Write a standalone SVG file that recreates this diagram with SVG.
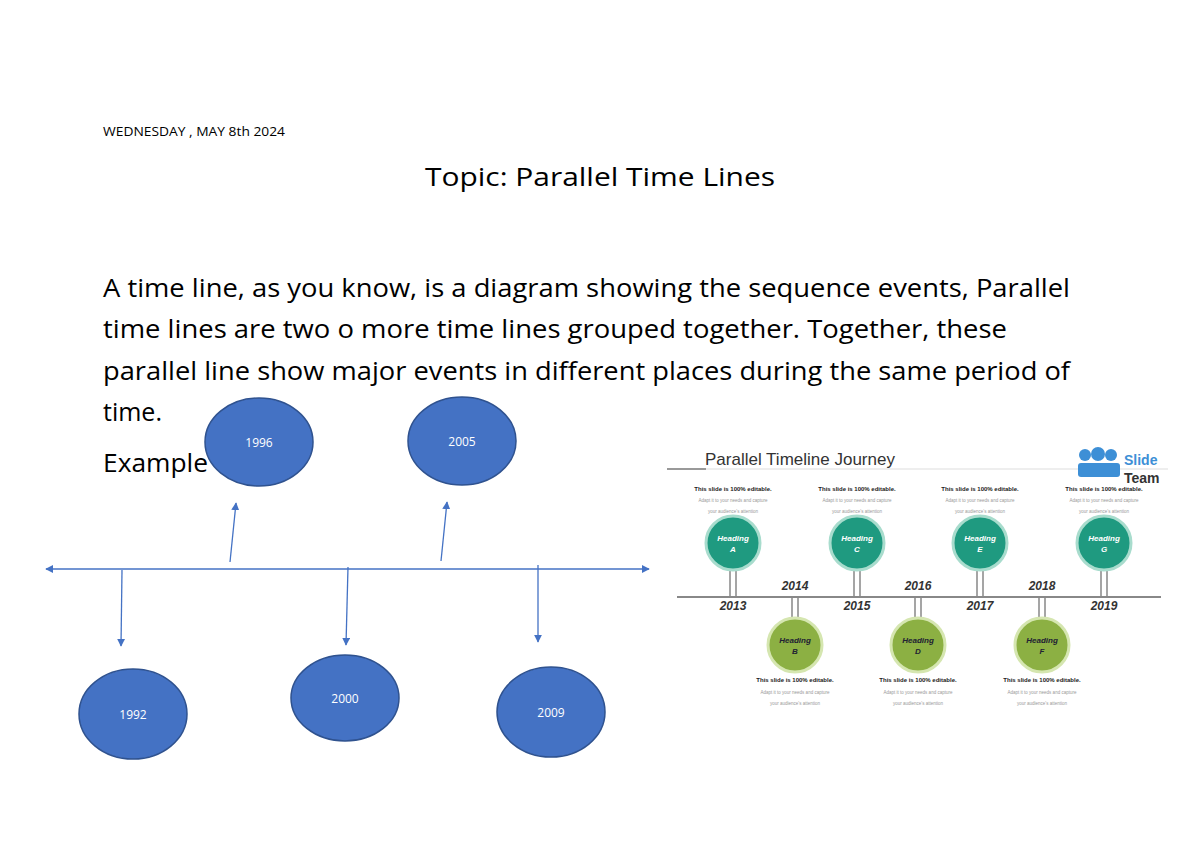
<svg xmlns="http://www.w3.org/2000/svg" width="1200" height="849" viewBox="0 0 1200 849">
<style>
.t{font-family:"Open Sans","Liberation Sans",sans-serif;fill:#000}
.b{font-size:25px}
.n ellipse{fill:#4472c4;stroke:#2f528f;stroke-width:1.5}
.n text{font-family:"Open Sans","Liberation Sans",sans-serif;font-size:12px;fill:#fff;text-anchor:middle}
.c line{stroke:#4472c4;stroke-width:1.3}
.s{font-family:"Liberation Sans",sans-serif}
.tc{fill:#1f9a80;stroke:#a8dccd;stroke-width:3}
.gc{fill:#8cb043;stroke:#d5e6b0;stroke-width:3}
.ht{font-family:"Liberation Sans",sans-serif;font-size:8px;font-style:italic;font-weight:bold;text-anchor:middle}
.sm{font-family:"Liberation Sans",sans-serif;font-size:6px;font-weight:bold;text-anchor:middle;fill:#222}
.sg{font-family:"Liberation Sans",sans-serif;font-size:4.5px;text-anchor:middle;fill:#999}
.yr{font-family:"Liberation Sans",sans-serif;font-size:12px;font-style:italic;font-weight:bold;text-anchor:middle;fill:#333}
</style>
<defs>
<marker id="a" viewBox="0 0 10 10" refX="9" refY="5" markerWidth="8" markerHeight="8" orient="auto-start-reverse" markerUnits="userSpaceOnUse"><path d="M0,0L10,5L0,10z" fill="#4472c4"/></marker>
</defs>
<rect width="1200" height="849" fill="#fff"/>
<text class="t" x="103" y="136" font-size="13" textLength="182" lengthAdjust="spacingAndGlyphs">WEDNESDAY , MAY 8th 2024</text>
<text class="t" x="425" y="186" font-size="26" textLength="350" lengthAdjust="spacingAndGlyphs">Topic: Parallel Time Lines</text>
<text class="t b" x="103" y="297" textLength="967" lengthAdjust="spacingAndGlyphs">A time line, as you know, is a diagram showing the sequence events, Parallel</text>
<text class="t b" x="103" y="338" textLength="904" lengthAdjust="spacingAndGlyphs">time lines are two o more time lines grouped together. Together, these</text>
<text class="t b" x="103" y="380" textLength="967" lengthAdjust="spacingAndGlyphs">parallel line show major events in different places during the same period of</text>
<text class="t b" x="103" y="421">time.</text>
<text class="t b" x="103" y="472" textLength="105" lengthAdjust="spacingAndGlyphs">Example</text>
<g class="c">
<line x1="46" y1="569" x2="649" y2="569" marker-start="url(#a)" marker-end="url(#a)"/>
<line x1="230" y1="562" x2="236" y2="503" marker-end="url(#a)"/>
<line x1="441" y1="561" x2="447" y2="502" marker-end="url(#a)"/>
<line x1="122" y1="570" x2="121" y2="646" marker-end="url(#a)"/>
<line x1="348" y1="567" x2="346" y2="645" marker-end="url(#a)"/>
<line x1="538" y1="565" x2="538" y2="642" marker-end="url(#a)"/>
</g>
<g id="n1996" class="n"><ellipse cx="259" cy="442" rx="54" ry="44"/><text x="259" y="447">1996</text></g>
<g id="n2005" class="n"><ellipse cx="462" cy="441" rx="54" ry="44"/><text x="462" y="446">2005</text></g>
<g id="n1992" class="n"><ellipse cx="133" cy="714" rx="54" ry="45"/><text x="133" y="719">1992</text></g>
<g id="n2000" class="n"><ellipse cx="345" cy="698" rx="54" ry="43"/><text x="345" y="703">2000</text></g>
<g id="n2009" class="n"><ellipse cx="551" cy="712" rx="54" ry="45"/><text x="551" y="717">2009</text></g>
<g id="picture">
<rect x="663" y="440" width="505" height="282" fill="#fff"/>
<text class="s" x="705" y="465" font-size="17" fill="#333">Parallel Timeline Journey</text>
<line x1="667" y1="469" x2="1168" y2="469" stroke="#ddd" stroke-width="1"/>
<line x1="667" y1="469" x2="706" y2="469" stroke="#999" stroke-width="2"/>
<g fill="#3d8fd6"><circle cx="1085" cy="455" r="6"/><circle cx="1098" cy="454" r="7"/><circle cx="1111" cy="455" r="6"/><rect x="1078" y="463" width="42" height="14" rx="3"/></g>
<text class="s" x="1124" y="465" font-size="14" fill="#3d8fd6" font-weight="bold">Slide</text>
<text class="s" x="1124" y="483" font-size="14" fill="#333" font-weight="bold">Team</text>
<line x1="677" y1="597" x2="1161" y2="597" stroke="#888" stroke-width="2"/>
<g stroke="#888" stroke-width="1.5" fill="none">
<path d="M730,570V597M736,570V597M854,570V597M860,570V597M977,570V597M983,570V597M1101,570V597M1107,570V597"/>
<path d="M792,597V618M798,597V618M915,597V618M921,597V618M1039,597V618M1045,597V618"/>
</g>
<g class="tc"><circle cx="733" cy="543" r="27"/><circle cx="857" cy="543" r="27"/><circle cx="980" cy="543" r="27"/><circle cx="1104" cy="543" r="27"/></g>
<g class="gc"><circle cx="795" cy="645" r="27"/><circle cx="918" cy="645" r="27"/><circle cx="1042" cy="645" r="27"/></g>
<g class="ht" fill="#fff"><text x="733" y="541">Heading</text><text x="733" y="552">A</text><text x="857" y="541">Heading</text><text x="857" y="552">C</text><text x="980" y="541">Heading</text><text x="980" y="552">E</text><text x="1104" y="541">Heading</text><text x="1104" y="552">G</text></g>
<g class="ht" fill="#223"><text x="795" y="643">Heading</text><text x="795" y="654">B</text><text x="918" y="643">Heading</text><text x="918" y="654">D</text><text x="1042" y="643">Heading</text><text x="1042" y="654">F</text></g>
<g class="yr"><text x="733" y="610">2013</text><text x="795" y="590">2014</text><text x="857" y="610">2015</text><text x="918" y="590">2016</text><text x="980" y="610">2017</text><text x="1042" y="590">2018</text><text x="1104" y="610">2019</text></g>
<g class="sm"><text x="733" y="491">This slide is 100% editable.</text><text x="857" y="491">This slide is 100% editable.</text><text x="980" y="491">This slide is 100% editable.</text><text x="1104" y="491">This slide is 100% editable.</text>
<text x="795" y="682">This slide is 100% editable.</text><text x="918" y="682">This slide is 100% editable.</text><text x="1042" y="682">This slide is 100% editable.</text></g>
<g class="sg"><text x="733" y="502">Adapt it to your needs and capture</text><text x="733" y="513">your audience's attention</text>
<text x="857" y="502">Adapt it to your needs and capture</text><text x="857" y="513">your audience's attention</text>
<text x="980" y="502">Adapt it to your needs and capture</text><text x="980" y="513">your audience's attention</text>
<text x="1104" y="502">Adapt it to your needs and capture</text><text x="1104" y="513">your audience's attention</text>
<text x="795" y="694">Adapt it to your needs and capture</text><text x="795" y="705">your audience's attention</text>
<text x="918" y="694">Adapt it to your needs and capture</text><text x="918" y="705">your audience's attention</text>
<text x="1042" y="694">Adapt it to your needs and capture</text><text x="1042" y="705">your audience's attention</text></g>
</g>
</svg>
